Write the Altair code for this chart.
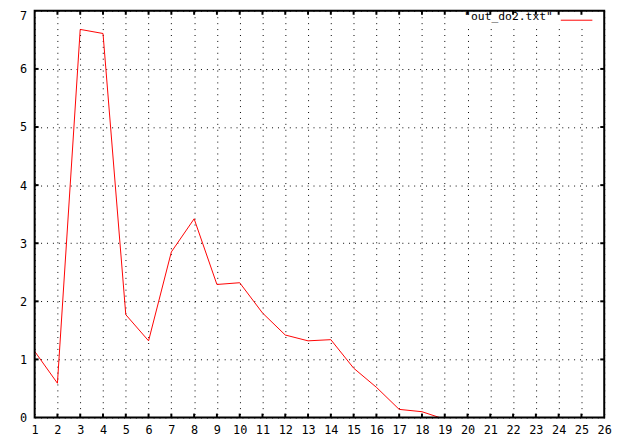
import altair as alt
import pandas as pd

# data
x_vals = [1, 2, 3, 4, 5, 6, 7, 8, 9, 10, 11, 12, 13, 14, 15, 16, 17, 18, 19]
y_vals = [1.14, 0.59, 6.68, 6.61, 1.77, 1.32, 2.85, 3.42, 2.29, 2.32, 1.80,
          1.42, 1.32, 1.34, 0.85, 0.52, 0.14, 0.10, -0.03]
series_name = '"out_do2.txt"'
x_ticks = list(range(1, 27))
y_ticks = list(range(0, 8))

W, H = 577, 412
FONT = "DejaVu Sans Mono"

df = pd.DataFrame({"x": x_vals, "y": y_vals})
xs = alt.Scale(domain=[1, 26], nice=False, zero=False)
ys = alt.Scale(domain=[0, 7], nice=False, zero=True)

grid_dash = [1, 5]

x_axis = alt.Axis(
    values=x_ticks, title=None, grid=True, gridColor="black", gridOpacity=1,
    gridDash=grid_dash, gridWidth=1, ticks=False, domain=False,
    labelFont=FONT, labelFontSize=12, labelColor="black", labelPadding=7,
    format="d", labelOverlap=False, labelFlush=False, labelBound=False)
y_axis = alt.Axis(
    values=y_ticks, title=None, grid=True, gridColor="black", gridOpacity=1,
    gridDash=grid_dash, gridWidth=1, ticks=False, domain=False,
    labelFont=FONT, labelFontSize=12, labelColor="black", labelPadding=8,
    labelOverlap=False, labelFlush=False,
    labelBaseline={"condition": {"test": "datum.value == 7", "value": "top"},
                   "value": "middle"},
    format="d")

line = alt.Chart(df).mark_line(color="#ff0000", strokeWidth=1, clip=True).encode(
    x=alt.X("x:Q", scale=xs, axis=x_axis),
    y=alt.Y("y:Q", scale=ys, axis=y_axis),
)

xt = pd.DataFrame({"x": x_ticks[1:-1]})
yt = pd.DataFrame({"y": y_ticks[1:-1]})

bottom_ticks = alt.Chart(xt).mark_rule(color="black", strokeWidth=2).encode(
    x=alt.X("x:Q", scale=xs, axis=x_axis), y=alt.value(H), y2=alt.value(H - 4))
top_ticks = alt.Chart(xt).mark_rule(color="black", strokeWidth=2).encode(
    x=alt.X("x:Q", scale=xs, axis=x_axis), y=alt.value(0), y2=alt.value(4))
left_ticks = alt.Chart(yt).mark_rule(color="black", strokeWidth=2).encode(
    y=alt.Y("y:Q", scale=ys, axis=y_axis), x=alt.value(0), x2=alt.value(4))
right_ticks = alt.Chart(yt).mark_rule(color="black", strokeWidth=2).encode(
    y=alt.Y("y:Q", scale=ys, axis=y_axis), x=alt.value(W), x2=alt.value(W - 4))

leg = pd.DataFrame({"name": [series_name]})
# key area is blanked (grid does not pass through it)
leg_bg = alt.Chart(leg).mark_rect(color="white", opacity=1).encode(
    x=alt.value(428), x2=alt.value(W - 1), y=alt.value(1), y2=alt.value(14),
    detail="name:N")
leg_text = alt.Chart(leg).mark_text(
    align="right", baseline="alphabetic", font=FONT, fontSize=11.5, color="black"
).encode(text="name:N", x=alt.value(525), y=alt.value(9))
leg_line = alt.Chart(leg).mark_rule(color="#ff0000", strokeWidth=1).encode(
    x=alt.value(533), x2=alt.value(565), y=alt.value(9.5), detail="name:N")

frame = alt.Chart(leg).mark_rect(
    filled=False, stroke="black", strokeWidth=2, fillOpacity=0
).encode(x=alt.value(0), x2=alt.value(W), y=alt.value(0), y2=alt.value(H),
         detail="name:N")

chart = alt.layer(
    leg_bg, line, bottom_ticks, top_ticks, left_ticks, right_ticks,
    leg_text, leg_line, frame
).properties(
    width=W, height=H,
    autosize=alt.AutoSizeParams(type="none"),
    padding={"left": 27, "top": 0, "right": 17, "bottom": 27},
).configure_view(stroke=None).configure(background="white")

chart.save("out.html", embed_options={"renderer": "svg", "actions": False})
